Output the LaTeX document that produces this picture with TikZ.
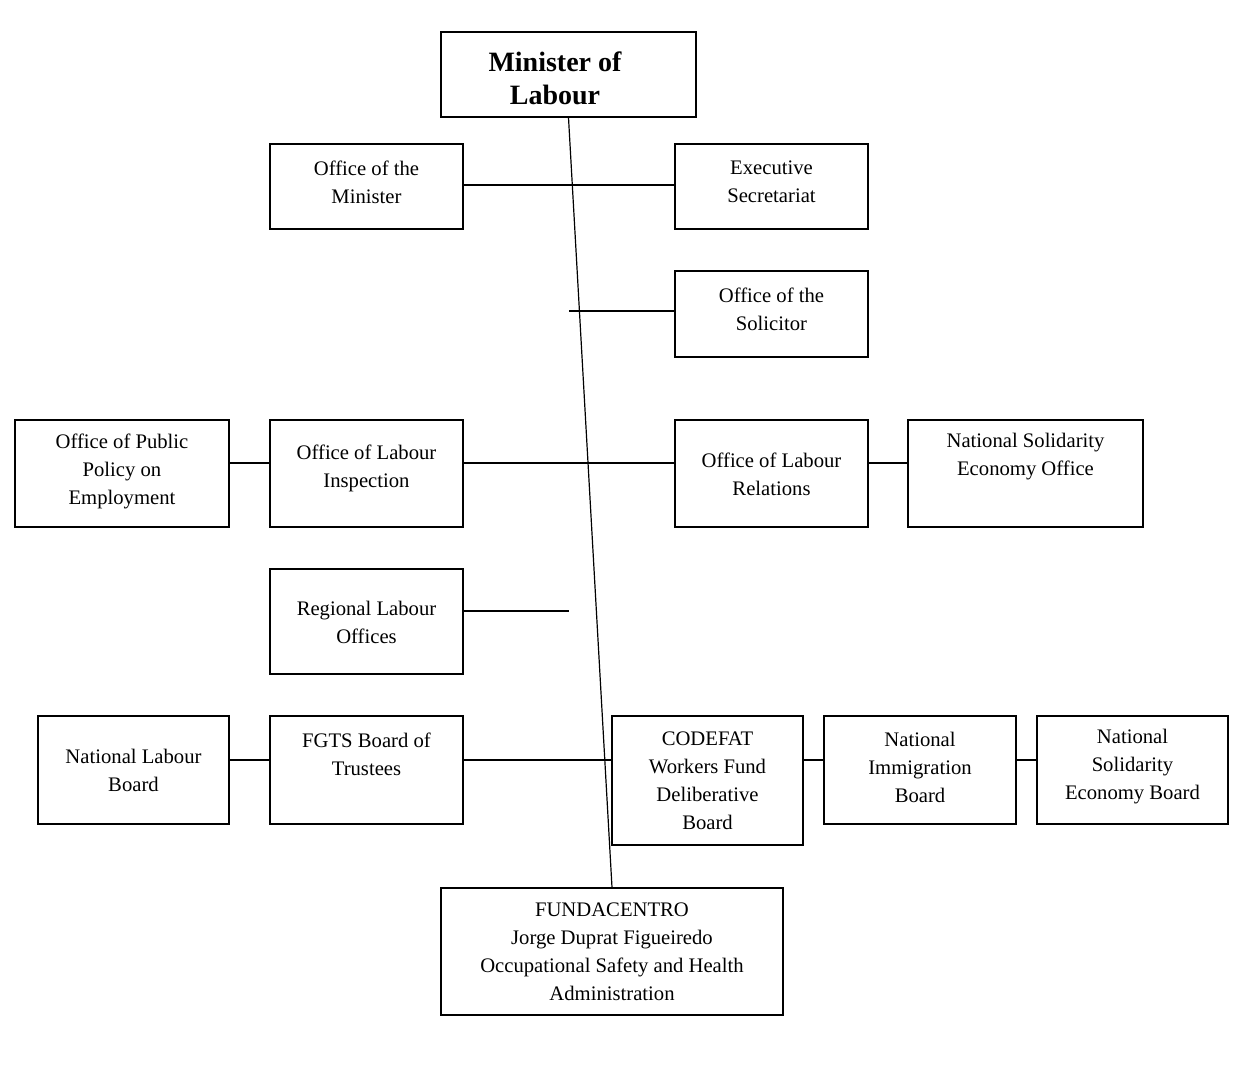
\documentclass[tikz,border=0pt]{standalone}
\usepackage{fontspec}
\setmainfont{Liberation Serif}
\begin{document}
\begin{tikzpicture}[x=0.75pt,y=-0.75pt,
  box/.style={draw,line width=0.9pt,inner sep=0pt},
  txt/.style={align=center,font=\fontsize{15.5}{21}\selectfont,inner sep=0pt},
  ln/.style={line width=0.9pt}]
\useasboundingbox[fill=white] (0,0) rectangle (1233,1081);
\newcommand\bx[7]{%
  \node[box,minimum width={(#4-#2)*0.75pt},minimum height={(#5-#3)*0.75pt}] (#1) at ({(#2+#4)/2},{(#3+#5)/2}) {};
  \node[txt] (#1t) at ({(#2+#4)/2},#7) {#6};}
\node[box,minimum width={255*0.75pt},minimum height={85*0.75pt}] (min) at (568.5,74.5) {};
\node[txt,font=\fontsize{21}{25}\bfseries] (mint) at (555,78) {Minister of\\Labour};
\bx{om}{270}{144}{463}{229}{Office of the\\Minister}{182}
\bx{es}{675}{144}{868}{229}{Executive\\Secretariat}{182}
\bx{sol}{675}{271}{868}{357}{Office of the\\Solicitor}{309}
\bx{pp}{15}{420}{229}{527}{Office of Public\\Policy on\\Employment}{471}
\bx{li}{270}{420}{463}{527}{Office of Labour\\Inspection}{468}
\bx{lr}{675}{420}{868}{527}{Office of Labour\\Relations}{474}
\bx{nseo}{908}{420}{1143}{527}{National Solidarity\\Economy Office}{457}
\bx{rlo}{270}{569}{463}{674}{Regional Labour\\Offices}{622}
\bx{nlb}{38}{716}{229}{824}{National Labour\\Board}{770}
\bx{fgts}{270}{716}{463}{824}{FGTS Board of\\Trustees}{754}
\bx{cod}{612}{716}{803}{845}{CODEFAT\\Workers Fund\\Deliberative\\Board}{781}
\bx{nib}{824}{716}{1016}{824}{National\\Immigration\\Board}{767}
\bx{nseb}{1037}{716}{1228}{824}{National\\Solidarity\\Economy Board}{767}
\bx{fun}{441}{888}{783}{1015}{FUNDACENTRO\\Jorge Duprat Figueiredo\\Occupational Safety and Health\\Administration}{952}
\coordinate (c1) at (569,185);
\coordinate (c2) at (569,311);
\coordinate (c3) at (569,463);
\coordinate (c4) at (569,611);
\coordinate (c5) at (569,760);
\draw[ln] (min.south) -- (fun.north);
\draw[ln] (om.east|-c1) -- (es.west|-c1);
\draw[ln] (c2) -- (sol.west|-c2);
\draw[ln] (li.east|-c3) -- (lr.west|-c3);
\draw[ln] (pp.east|-c3) -- (li.west|-c3);
\draw[ln] (lr.east|-c3) -- (nseo.west|-c3);
\draw[ln] (rlo.east|-c4) -- (c4);
\draw[ln] (fgts.east|-c5) -- (cod.west|-c5);
\draw[ln] (nlb.east|-c5) -- (fgts.west|-c5);
\draw[ln] (cod.east|-c5) -- (nib.west|-c5);
\draw[ln] (nib.east|-c5) -- (nseb.west|-c5);
\end{tikzpicture}
\end{document}
